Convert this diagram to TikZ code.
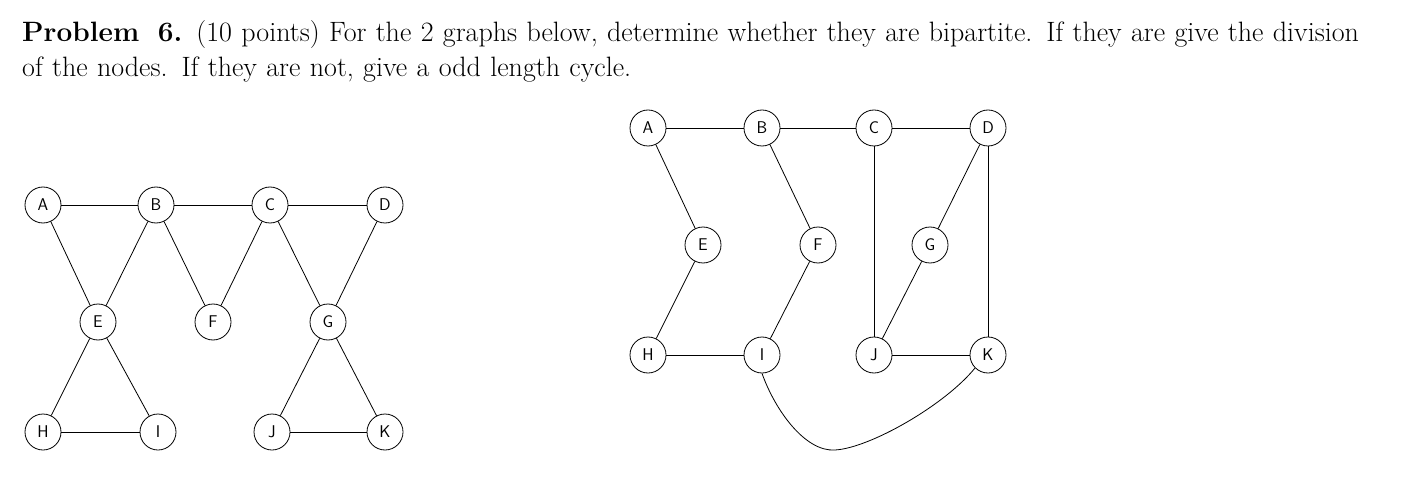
\documentclass[tikz,border=0pt]{standalone}
\usepackage{tikz}
\begin{document}
\begin{tikzpicture}[x=1pt, y=-1pt]
	\tikzstyle{vertex}=[
		draw,
		circle,
		thick,
		fill=white,
		minimum size=36pt,
		inner sep=0pt,
		font=\fontsize{17}{17}\selectfont\sffamily
	]
	\tikzstyle{edge}=[thick]
	\useasboundingbox (0,0) rectangle (1412,486);
	
	\node (title) [anchor=north west, inner sep=0pt, text width=1390pt, align=left, font=\fontsize{28}{35}\selectfont] at (22,20)
		{\textbf{Problem\ \ 6.} (10 points) For the 2 graphs below, determine whether they are bipartite. If they are give the division\\ of the nodes. If they are not, give a odd length cycle.};
	
	% first graph
	\node (lA) [vertex] at (43,205) {A};
	\node (lB) [vertex] at (156,205) {B};
	\node (lC) [vertex] at (270,205) {C};
	\node (lD) [vertex] at (385,205) {D};
	\node (lE) [vertex] at (98,322) {E};
	\node (lF) [vertex] at (213,322) {F};
	\node (lG) [vertex] at (328,322) {G};
	\node (lH) [vertex] at (43,432) {H};
	\node (lI) [vertex] at (158,432) {I};
	\node (lJ) [vertex] at (272,432) {J};
	\node (lK) [vertex] at (385,432) {K};
	\foreach \a/\b in {lA/lB, lB/lC, lC/lD, lA/lE, lB/lE, lB/lF, lC/lF, lC/lG, lD/lG, lE/lH, lE/lI, lH/lI, lG/lJ, lG/lK, lJ/lK}
		\draw [edge] (\a) -- (\b);
	
	% second graph
	\node (rA) [vertex] at (648,128) {A};
	\node (rB) [vertex] at (762,128) {B};
	\node (rC) [vertex] at (874,128) {C};
	\node (rD) [vertex] at (988,128) {D};
	\node (rE) [vertex] at (703,245) {E};
	\node (rF) [vertex] at (818,245) {F};
	\node (rG) [vertex] at (930,245) {G};
	\node (rH) [vertex] at (648,355) {H};
	\node (rI) [vertex] at (762,355) {I};
	\node (rJ) [vertex] at (874,355) {J};
	\node (rK) [vertex] at (988,355) {K};
	\foreach \a/\b in {rA/rB, rB/rC, rC/rD, rA/rE, rE/rH, rH/rI, rB/rF, rF/rI, rC/rJ, rG/rD, rG/rJ, rD/rK, rJ/rK}
		\draw [edge] (\a) -- (\b);
	\draw [edge] (rI.south) .. controls (775,410) and (805,452) .. (835,450)
		.. controls (870,448) and (945,405) .. (rK.south west);
\end{tikzpicture}
\end{document}
